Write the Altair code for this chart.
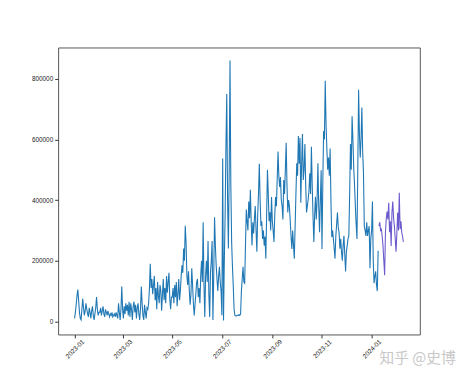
import altair as alt
import pandas as pd

# daily values, in thousands
jan23 = [10, 30, 55, 85, 105, 70, 30, 10, 5, 40, 75, 45, 20, 35, 60, 40, 25, 15, 45, 30,
         10, 35, 50, 20, 5, 25, 45, 80, 40, 20, 30]
feb23 = [30, 45, 20, 35, 50, 25, 15, 40, 30, 20, 35, 25, 15, 25, 20, 30, 15, 20, 25, 15,
         30, 20, 10, 60, 30, 5, 40, 115]
mar23 = [40, 10, 50, 25, 60, 35, 55, 20, 65, 15, 60, 40, 5, 50, 65, 30, 55, 10, 45, 60,
         25, 5, 40, 115, 60, 20, 5, 55, 30, 10, 45]
apr23 = [40, 60, 110, 190, 110, 140, 90, 120, 150, 70, 110, 40, 130, 85, 60, 120, 100, 35, 90, 140,
         70, 110, 60, 150, 95, 130, 160, 75, 40, 80]
may23 = [80, 110, 60, 120, 80, 130, 50, 90, 140, 70, 100, 150, 185, 160, 240, 200, 315, 260, 150, 120,
         165, 100, 55, 90, 175, 120, 60, 20, 55, 90, 130]
jun23 = [140, 80, 110, 60, 150, 200, 130, 327, 120, 15, 150, 200, 130, 265, 90, 15, 160, 200, 265, 5,
         150, 343, 250, 185, 140, 100, 150, 180, 130, 100]
jul23 = [20, 537, 3, 200, 350, 580, 750, 400, 240, 500, 860, 450, 262, 180, 116, 40, 20, 18, 18, 20,
         20, 22, 20, 25, 100, 142, 180, 130, 126, 250, 369]
aug23 = [330, 300, 395, 340, 434, 330, 250, 327, 290, 340, 380, 300, 230, 350, 420, 520, 400, 315, 330, 272,
         300, 250, 280, 207, 350, 500, 420, 330, 360, 300, 410]
sep23 = [330, 300, 262, 350, 410, 380, 470, 560, 480, 443, 476, 400, 380, 336, 466, 420, 500, 589, 450, 359,
         400, 379, 330, 280, 239, 300, 250, 207, 314, 420]
oct23 = [521, 480, 611, 520, 605, 391, 520, 618, 466, 500, 585, 450, 359, 380, 401, 430, 488, 420, 576, 450,
         346, 262, 350, 411, 336, 400, 521, 380, 294, 400, 498]
nov23 = [239, 450, 628, 600, 793, 650, 570, 500, 540, 480, 570, 400, 278, 300, 272, 240, 207, 280, 320, 359,
         310, 294, 240, 272, 230, 200, 250, 282, 220, 165]
dec23 = [230, 250, 272, 282, 420, 585, 500, 676, 600, 508, 450, 380, 320, 272, 500, 764, 620, 540, 600, 705,
         560, 488, 314, 300, 282, 327, 282, 300, 314, 175, 272]
jan24 = [300, 395, 200, 126, 150, 165, 120, 100, 233]

# second series (purple), starting 2024-01-10
new_values = [314, 327, 300, 304, 280, 249, 200, 152, 294, 340, 362, 336, 391, 294, 330, 249, 360, 395, 340, 314,
              272, 230, 290, 359, 300, 424, 304, 330, 294, 280, 262]

hist_values = jan23 + feb23 + mar23 + apr23 + may23 + jun23 + jul23 + aug23 + sep23 + oct23 + nov23 + dec23 + jan24

hist_dates = pd.date_range("2023-01-01", periods=len(hist_values), freq="D")
new_dates = pd.date_range("2024-01-10", periods=len(new_values), freq="D")

df = pd.DataFrame({
    "date": list(hist_dates.strftime("%Y-%m-%dT00:00:00")) + list(new_dates.strftime("%Y-%m-%dT00:00:00")),
    "value": [v * 1000 for v in hist_values] + [v * 1000 for v in new_values],
    "series": ["hist"] * len(hist_values) + ["new"] * len(new_values),
})

tick_dates = [alt.DateTime(year=y, month=m, date=1) for (y, m) in
              [(2023, 1), (2023, 3), (2023, 5), (2023, 7), (2023, 9), (2023, 11), (2024, 1)]]

lines = alt.Chart(df).mark_line(strokeWidth=1.1).encode(
    x=alt.X("date:T",
            scale=alt.Scale(domain=[alt.DateTime(year=2022, month=12, date=11, hours=19),
                                    alt.DateTime(year=2024, month=2, date=29, hours=5)]),
            axis=alt.Axis(values=tick_dates, format="%Y-%m", labelAngle=-45, labelAlign="center",
                          labelBaseline="middle", labelPadding=11, title=None)),
    y=alt.Y("value:Q",
            scale=alt.Scale(domain=[-43000, 903000], nice=False, zero=False),
            axis=alt.Axis(values=[0, 200000, 400000, 600000, 800000], format="d", title=None,
                          labelPadding=2)),
    color=alt.Color("series:N", scale=alt.Scale(domain=["hist", "new"], range=["#1f77b4", "#6a5acd"]),
                    legend=None),
    detail="series:N",
)

wm = alt.Chart(pd.DataFrame({"t": ["知乎 @史博"]})).mark_text(
    align="left", baseline="middle", font="Noto Sans CJK SC", fontSize=15, color="#c8c8c8"
).encode(text="t:N", x=alt.value(327), y=alt.value(316))

chart = alt.layer(lines, wm).properties(
    width=368, height=292,
    padding={"left": 51, "top": 37, "right": 47, "bottom": 34},
    autosize=alt.AutoSizeParams(type="none"),
    background="white",
).configure_view(stroke="#555555", strokeWidth=1).configure_axis(
    grid=False, domain=False, ticks=True, tickColor="#333333", tickSize=3.5,
    labelFont="Liberation Sans", labelFontSize=6.5, labelColor="#222222",
)

chart.save("out.html", embed_options={"renderer": "svg", "actions": False})
